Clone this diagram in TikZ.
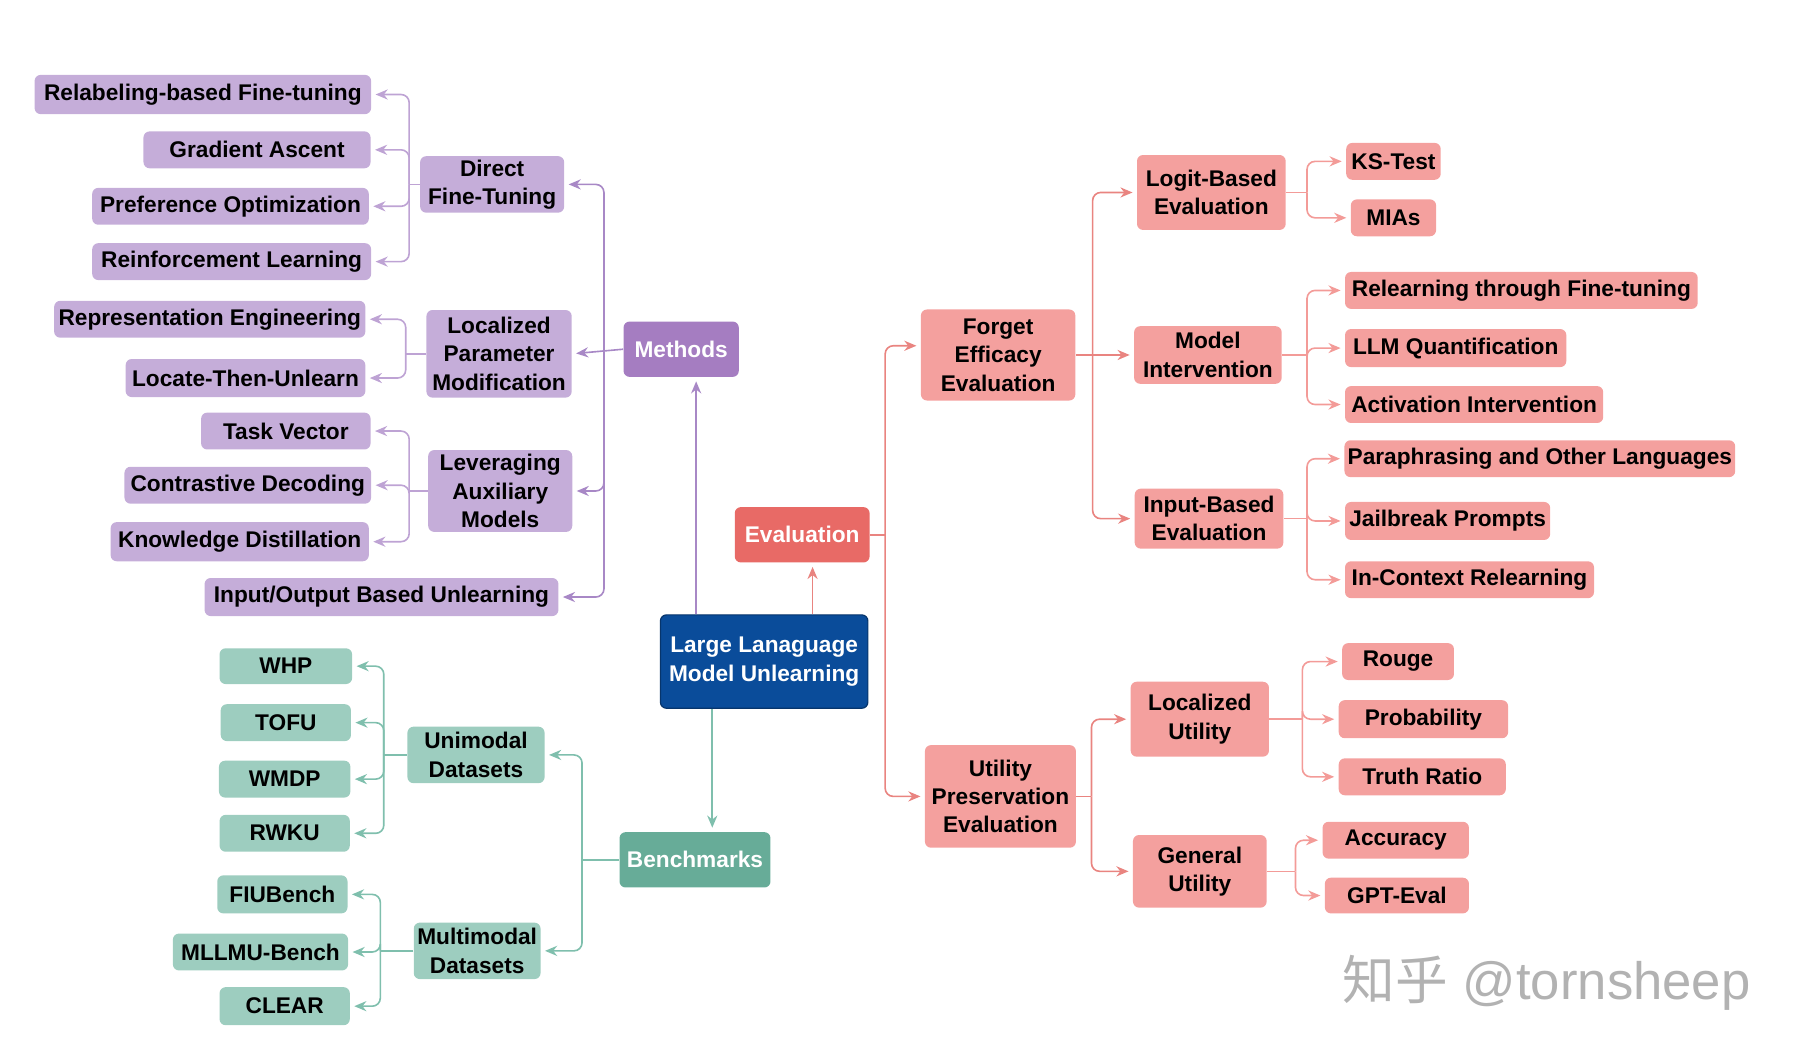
\documentclass[tikz,border=0pt]{standalone}
\usepackage{fontspec}
\setmainfont{Liberation Sans}
\newfontfamily\cjk{Noto Sans CJK SC}
\usetikzlibrary{arrows.meta}
\definecolor{pl}{HTML}{C5ADD9}\definecolor{pd}{HTML}{A57DC1}\definecolor{pc}{HTML}{A888C6}
\definecolor{tl}{HTML}{9DCDBF}\definecolor{td}{HTML}{67AC98}\definecolor{tc}{HTML}{7FBFAD}
\definecolor{sl}{HTML}{F4A09E}\definecolor{sd}{HTML}{E86A66}\definecolor{sc}{HTML}{E98480}
\definecolor{bd}{HTML}{0A4C9A}
\newcommand{\bx}[7]{\node[#6,minimum width=#4*0.02cm,minimum height=#5*0.02cm] (#1) at (#2,#3) {#7};}
\tikzset{
 box/.style={rounded corners=3pt,inner sep=1pt,align=center,font=\fontsize{11.2}{14}\selectfont\bfseries},
 pbox/.style={box,fill=pl},
 tbox/.style={box,fill=tl},
 sbox/.style={box,fill=sl},
 dbox/.style={box,text=white},
 arr/.style={-{Stealth[length=6pt,width=5pt]},line width=0.8pt,rounded corners=4pt,shorten >=2pt},
 ln/.style={line width=0.8pt},
}
\begin{document}
\begin{tikzpicture}[x=0.02cm,y=-0.02cm]
\useasboundingbox (0,0) rectangle (1560,918);
% methods side
\bx{relab}{176}{82}{292}{34}{pbox}{Relabeling-based Fine-tuning}
\bx{ga}{223}{130}{197}{32}{pbox}{Gradient Ascent}
\bx{po}{200}{179}{240}{32}{pbox}{Preference Optimization}
\bx{rl}{201}{227}{242}{32}{pbox}{Reinforcement Learning}
\bx{dft}{427}{160}{125}{49}{pbox}{Direct\\Fine-Tuning}
\bx{re}{182}{277}{270}{32}{pbox}{Representation Engineering}
\bx{ltu}{213}{328}{208}{33}{pbox}{Locate-Then-Unlearn}
\bx{lpm}{433}{307}{126}{76}{pbox}{Localized\\Parameter\\Modification}
\bx{tv}{248}{374}{147}{32}{pbox}{Task Vector}
\bx{cd}{215}{421}{214}{32}{pbox}{Contrastive Decoding}
\bx{kd}{208}{470}{224}{34}{pbox}{Knowledge Distillation}
\bx{lam}{434}{426}{125}{71}{pbox}{Leveraging\\Auxiliary\\Models}
\bx{io}{331}{518}{307}{33}{pbox}{Input/Output Based Unlearning}
\bx{meth}{591}{303}{100}{48}{dbox,fill=pd}{Methods}
% center
\bx{llm}{663}{574}{180}{81}{dbox,fill=bd,draw=bd!70!black,line width=0.6pt}{Large Lanaguage\\Model Unlearning}
\bx{eval}{696}{464}{117}{48}{dbox,fill=sd}{Evaluation}
\bx{bench}{603}{746}{131}{48}{dbox,fill=td}{Benchmarks}
% benchmarks
\bx{whp}{248}{578}{115}{31}{tbox}{WHP}
\bx{tofu}{248}{627}{113}{32}{tbox}{TOFU}
\bx{wmdp}{247}{676}{114}{32}{tbox}{WMDP}
\bx{rwku}{247}{723}{113}{32}{tbox}{RWKU}
\bx{uni}{413}{655}{119}{49}{tbox}{Unimodal\\Datasets}
\bx{fiu}{245}{776}{113}{33}{tbox}{FIUBench}
\bx{mllmu}{226}{826}{152}{32}{tbox}{MLLMU-Bench}
\bx{clear}{247}{873}{113}{33}{tbox}{CLEAR}
\bx{multi}{414}{825}{110}{49}{tbox}{Multimodal\\Datasets}
% evaluation
\bx{fee}{866}{308}{134}{79}{sbox}{Forget\\Efficacy\\Evaluation}
\bx{upe}{868}{691}{131}{89}{sbox}{Utility\\Preservation\\Evaluation}
\bx{logit}{1051}{167}{129}{65}{sbox}{Logit-Based\\Evaluation}
\bx{mi}{1048}{308}{128}{50}{sbox}{Model\\Intervention}
\bx{ibe}{1049}{450}{129}{52}{sbox}{Input-Based\\Evaluation}
\bx{ks}{1209}{140}{82}{32}{sbox}{KS-Test}
\bx{mias}{1209}{189}{74}{32}{sbox}{MIAs}
\bx{rft}{1320}{252}{306}{32}{sbox}{Relearning through Fine-tuning}
\bx{llmq}{1263}{302}{192}{33}{sbox}{LLM Quantification}
\bx{ai}{1279}{351}{224}{32}{sbox}{Activation Intervention}
\bx{para}{1336}{398}{339}{32}{sbox}{Paraphrasing and Other Languages}
\bx{jb}{1256}{452}{178}{33}{sbox}{Jailbreak Prompts}
\bx{icr}{1275}{503}{216}{32}{sbox}{In-Context Relearning}
\bx{lu}{1041}{624}{120}{65}{sbox}{Localized\\Utility}
\bx{gu}{1041}{756}{116}{63}{sbox}{General\\Utility}
\bx{rouge}{1213}{574}{97}{32}{sbox}{Rouge}
\bx{prob}{1235}{624}{147}{33}{sbox}{Probability}
\bx{tr}{1234}{674}{145}{32}{sbox}{Truth Ratio}
\bx{acc}{1211}{729}{127}{32}{sbox}{Accuracy}
\bx{gpt}{1212}{777}{125}{31}{sbox}{GPT-Eval}
% center arrows
\draw[arr,pc] (llm.north -| meth) ++(13,0) coordinate (m0) -- (m0 |- meth.south);
\draw[arr,sc] (llm.north -| eval) ++(9,0) coordinate (e0) -- (e0 |- eval.south);
\draw[arr,tc] (llm.south -| bench) ++(15,0) coordinate (b0) -- (b0 |- bench.north);
% methods tree
\draw[arr,pc] (meth.west) -- (lpm.east);
\draw[arr,pc] (524,305) |- (dft.east);
\draw[arr,pc] (524,305) |- (lam.east);
\draw[arr,pc] (524,305) |- (io.east);
\draw[ln,pl!80!pd] (dft.west) -- (355,160);
\draw[ln,pl!80!pd] (lpm.west) -- (352,307);
\draw[ln,pl!80!pd] (lam.west) -- (355,426);
\foreach \c in {relab,ga,po,rl}{\draw[arr,pl!80!pd] (355,160) |- (\c.east);}
\foreach \c in {re,ltu}{\draw[arr,pl!80!pd] (352,307) |- (\c.east);}
\foreach \c in {tv,cd,kd}{\draw[arr,pl!80!pd] (355,426) |- (\c.east);}
% benchmarks tree
\draw[ln,tc] (bench.west) -- (505,746);
\draw[arr,tc] (505,746) |- (uni.east);
\draw[arr,tc] (505,746) |- (multi.east);
\draw[ln,tc] (uni.west) -- (333,655);
\draw[ln,tc] (multi.west) -- (330,825);
\foreach \c in {whp,tofu,wmdp,rwku}{\draw[arr,tc] (333,655) |- (\c.east);}
\foreach \c in {fiu,mllmu,clear}{\draw[arr,tc] (330,825) |- (\c.east);}
% evaluation tree
\draw[ln,sc] (eval.east) -- (768,464);
\draw[arr,sc] (768,464) |- (fee.west |- 0,300);
\draw[arr,sc] (768,464) |- (upe.west);
\draw[arr,sc] (fee.east) -- (mi.west);
\draw[arr,sc] (948,308) |- (logit.west);
\draw[arr,sc] (948,308) |- (ibe.west);
\draw[ln,sc] (upe.east) -- (947,691);
\draw[arr,sc] (947,691) |- (lu.west);
\draw[arr,sc] (947,691) |- (gu.west);
\draw[ln,sl!90!sd] (logit.east) -- (1134,167);
\draw[ln,sl!90!sd] (mi.east) -- (1134,308);
\draw[ln,sl!90!sd] (ibe.east) -- (1134,450);
\draw[ln,sl!90!sd] (lu.east) -- (1130,624);
\draw[ln,sl!90!sd] (gu.east) -- (1124,756);
\foreach \c in {ks,mias}{\draw[arr,sl!90!sd] (1134,167) |- (\c.west);}
\foreach \c in {rft,llmq,ai}{\draw[arr,sl!90!sd] (1134,308) |- (\c.west);}
\foreach \c in {para,jb,icr}{\draw[arr,sl!90!sd] (1134,450) |- (\c.west);}
\foreach \c in {rouge,prob,tr}{\draw[arr,sl!90!sd] (1130,624) |- (\c.west);}
\foreach \c in {acc,gpt}{\draw[arr,sl!90!sd] (1124,756) |- (\c.west);}
% watermark
\node[text=black!30,font=\fontsize{26}{28}\selectfont] (wm) at (1342,853) {{\cjk 知乎} @tornsheep};
\end{tikzpicture}
\end{document}
